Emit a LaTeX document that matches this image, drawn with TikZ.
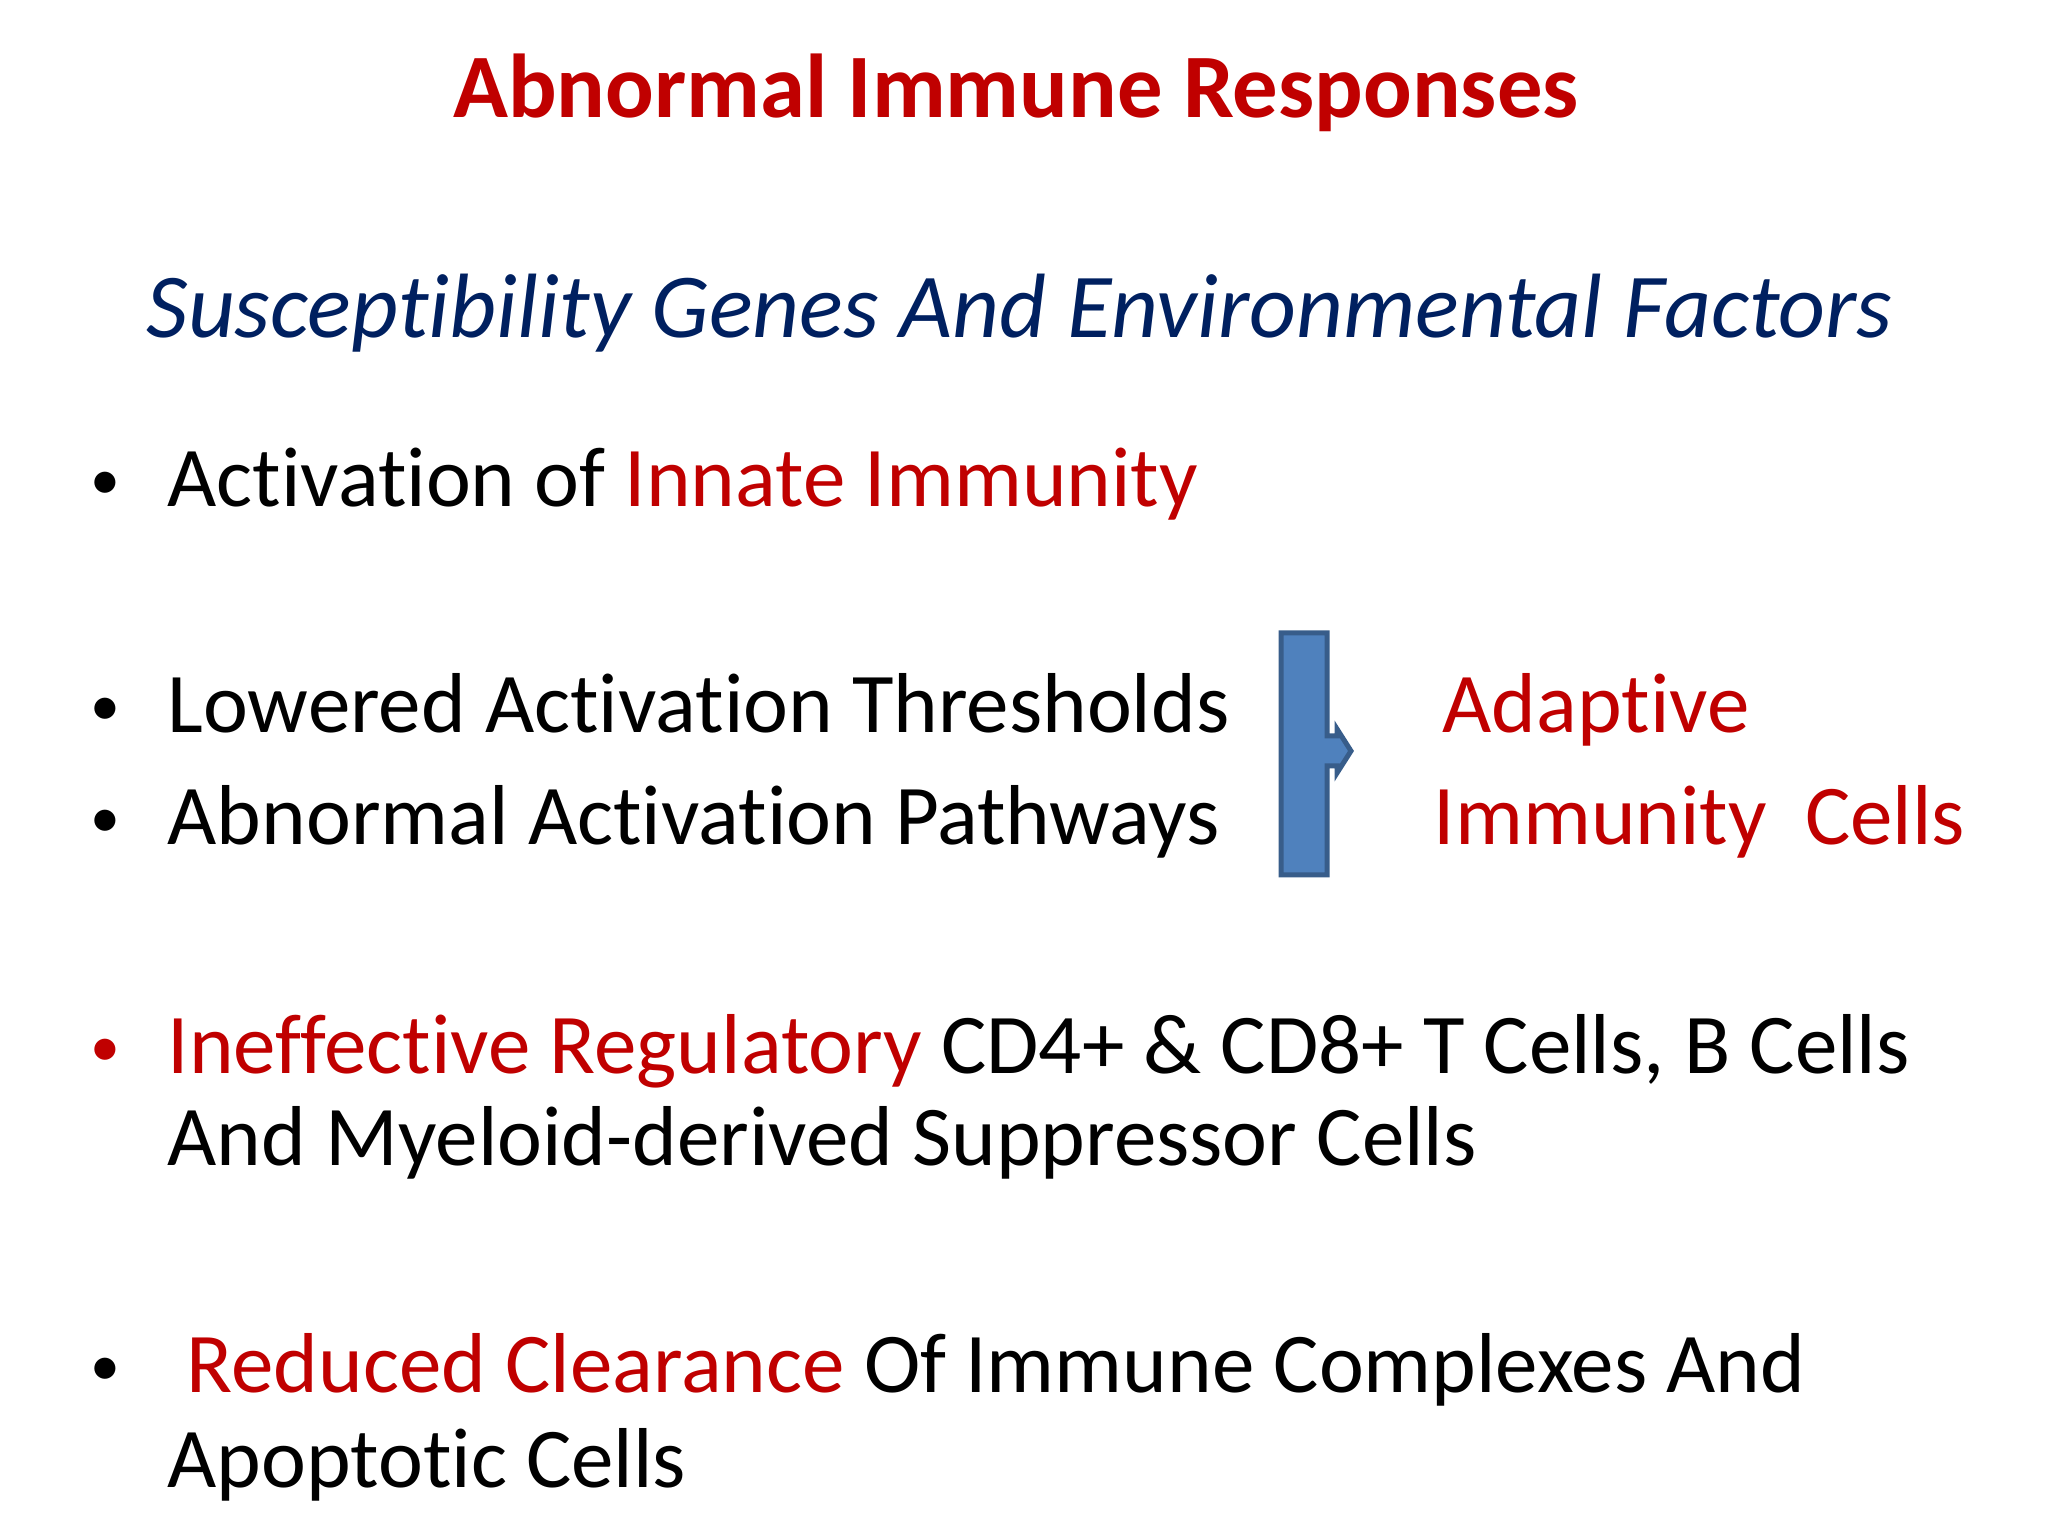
\documentclass[tikz,border=0pt]{standalone}
\usepackage{fontspec}
\setmainfont{Carlito}[Ligatures=NoCommon]
\usetikzlibrary{positioning}
\definecolor{darkred}{RGB}{192,0,0}
\definecolor{navy}{RGB}{0,32,96}
\definecolor{arrowblue}{RGB}{79,129,189}
\definecolor{arrowline}{RGB}{56,93,138}
\begin{document}
\begin{tikzpicture}[every node/.style = {inner sep=0pt, anchor=base west, font=\fontsize{24.2}{29}\selectfont}]
	\tikzstyle{title} = [anchor=base, text=darkred, font=\fontsize{25.8}{31}\selectfont\bfseries]
	\tikzstyle{sub} = [text=navy, font=\fontsize{26}{30}\selectfont\itshape]
	\tikzstyle{dot} = [font=\fontsize{17}{20}\selectfont, yshift=2pt]
	\tikzstyle{red} = [text=darkred]
	\useasboundingbox (0,0) rectangle (20.48,15.36);
	\node[title] (head) at (10.16,14.18) {Abnormal Immune Responses};
	\node[sub] (genes) at (1.46,11.98) {Susceptibility Genes And Environmental Factors};
	% bullets
	\node[dot] (b1) at (0.90,10.29) {\textbullet};
	\node (innate) at (1.67,10.29) {Activation of \textcolor{darkred}{Innate Immunity}};
	\node[dot] (b2) at (0.90,8.03) {\textbullet};
	\node (lowered) at (1.67,8.03) {Lowered Activation Thresholds};
	\node[dot] (b3) at (0.90,6.91) {\textbullet};
	\node (pathways) at (1.67,6.91) {Abnormal Activation Pathways};
	\node[red] (adaptive) at (14.42,8.03) {Adaptive};
	\node[red] (cells) at (14.33,6.91) {Immunity\ \ Cells};
	\node[dot, red] (b4) at (0.90,4.62) {\textbullet};
	\node (regul) at (1.67,4.62) {\textcolor{darkred}{Ineffective Regulatory} CD4+ \& CD8+ T Cells, B Cells};
	\node (myeloid) at (1.67,3.70) {And Myeloid-derived Suppressor Cells};
	\node[dot] (b5) at (0.90,1.43) {\textbullet};
	\node (clear) at (1.86,1.43) {\textcolor{darkred}{Reduced Clearance} Of Immune Complexes And};
	\node (apopt) at (1.67,0.48) {Apoptotic Cells};
	% arrow
	\draw[fill=arrowblue, draw=arrowline, line width=0.5mm] (12.81,9.03) -- (13.27,9.03) -- (13.27,8.0) -- (13.37,8.0) -- (13.37,8.07) -- (13.51,7.85) -- (13.37,7.63) -- (13.37,7.70) -- (13.27,7.70) -- (13.27,6.61) -- (12.81,6.61) -- cycle;
\end{tikzpicture}
\end{document}
